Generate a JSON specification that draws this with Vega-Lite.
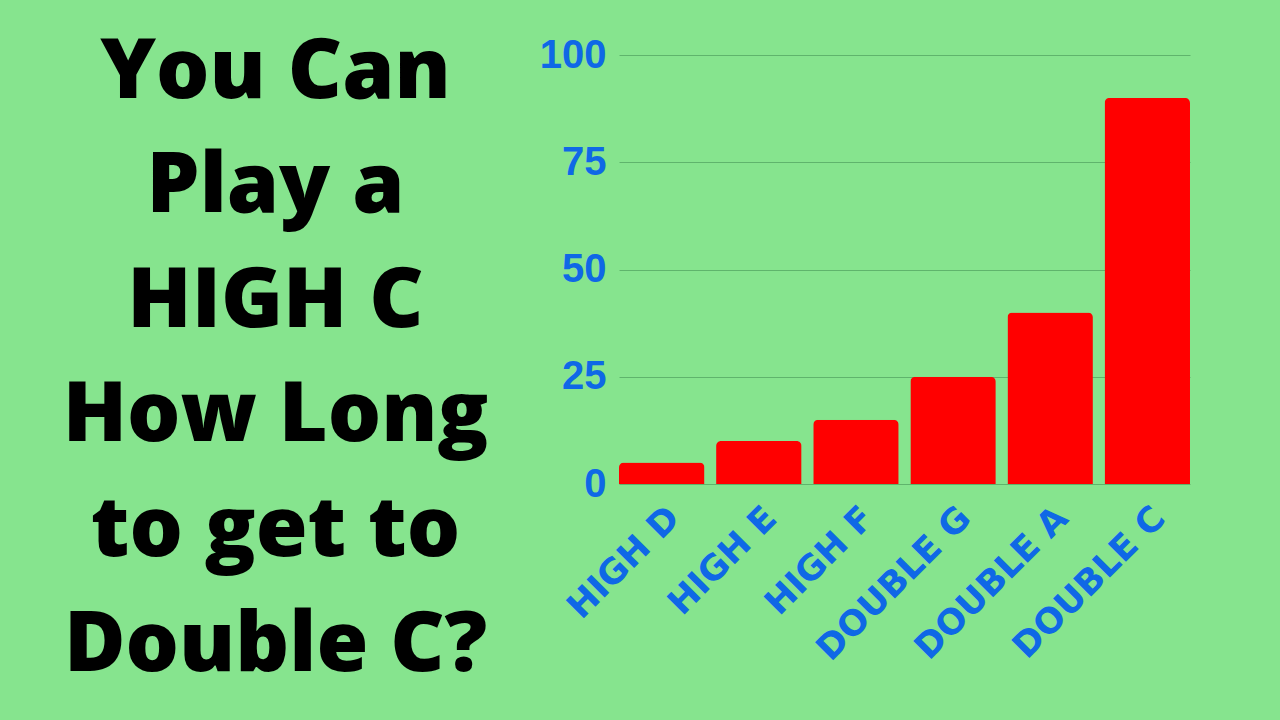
{
  "$schema": "https://vega.github.io/schema/vega-lite/v6.json",
  "autosize": "none",
  "width": 571,
  "height": 429,
  "padding": {"left": 619, "top": 55, "right": 90, "bottom": 236},
  "background": "#86e48e",
  "title": {
    "text": ["You Can", "Play a", "\u00a0HIGH C", "How Long", "to get to", "Double C?"],
    "orient": "left",
    "anchor": "middle",
    "frame": "group",
    "angle": 0,
    "align": "center",
    "baseline": "middle",
    "offset": -162,
    "dy": -197,
    "font": "Open Sans",
    "fontSize": 84,
    "fontWeight": 800,
    "lineHeight": 114.6,
    "color": "#000000"
  },
  "data": {
    "values": [
      {"note": "HIGH D", "weeks": 5},
      {"note": "HIGH E", "weeks": 10},
      {"note": "HIGH F", "weeks": 15},
      {"note": "DOUBLE G", "weeks": 25},
      {"note": "DOUBLE A", "weeks": 40},
      {"note": "DOUBLE C", "weeks": 90}
    ]
  },
  "mark": {"type": "bar", "color": "#ff0000", "cornerRadiusTopLeft": 5, "cornerRadiusTopRight": 5},
  "encoding": {
    "x": {
      "field": "note",
      "type": "nominal",
      "sort": null,
      "scale": {"paddingInner": 0.12, "paddingOuter": 0},
      "axis": {
        "title": null,
        "labelAngle": -45,
        "labelFont": "DejaVu Sans",
        "labelFontWeight": "bold",
        "labelFontSize": 35,
        "labelColor": "#0f68e6",
        "labelPadding": 16,
        "labelLimit": 0,
        "ticks": false,
        "domain": false
      }
    },
    "y": {
      "field": "weeks",
      "type": "quantitative",
      "scale": {"domain": [0, 100]},
      "axis": {
        "title": null,
        "values": [0, 25, 50, 75, 100],
        "labelFont": "Liberation Sans",
        "labelFontWeight": "bold",
        "labelFontSize": 40,
        "labelColor": "#0f68e6",
        "labelPadding": 13,
        "ticks": false,
        "domain": false,
        "grid": true,
        "gridColor": "#4f9f5e",
        "gridOpacity": 0.7,
        "gridWidth": 1
      }
    }
  },
  "config": {"view": {"stroke": null}}
}
